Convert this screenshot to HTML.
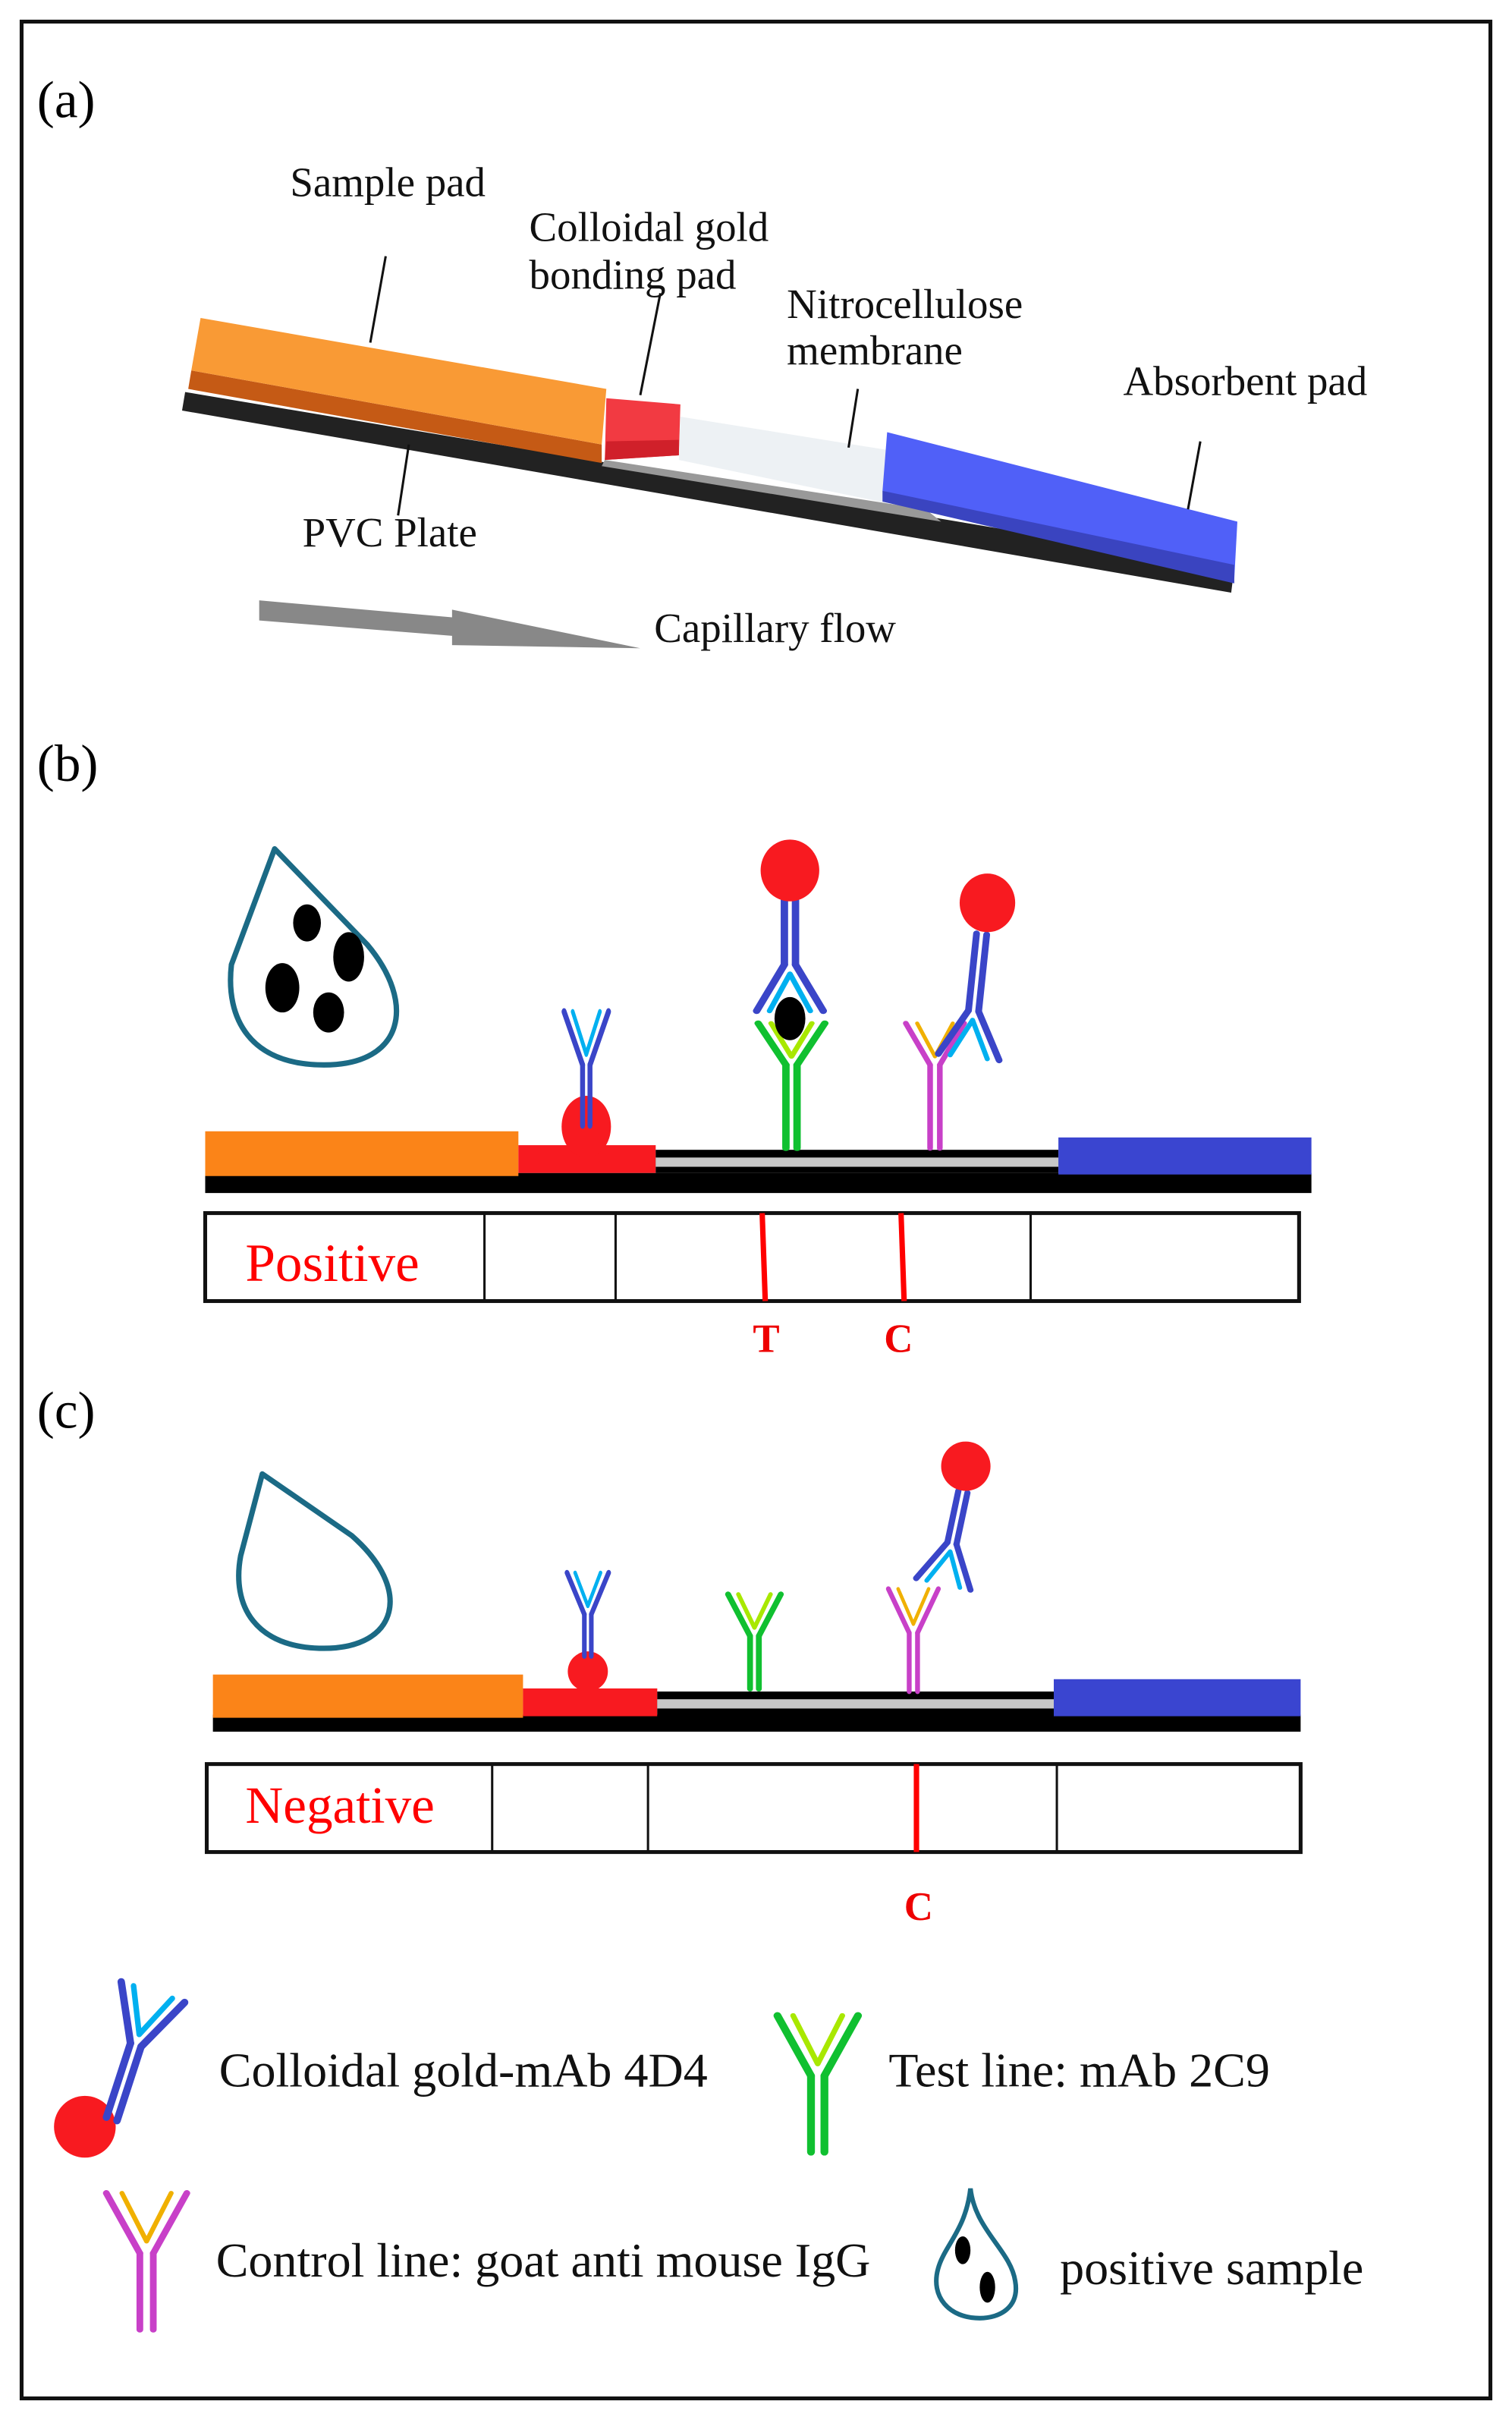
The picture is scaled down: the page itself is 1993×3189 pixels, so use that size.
<!DOCTYPE html>
<html><head><meta charset="utf-8"><style>
html,body{margin:0;padding:0;background:#fff}
svg{display:block}
text{font-family:"Liberation Serif",serif}
</style></head><body>
<svg width="1993" height="3189" viewBox="0 0 980 1568" preserveAspectRatio="none" xmlns="http://www.w3.org/2000/svg">
<rect x="0" y="0" width="980" height="1568" fill="#fff"/>
<rect x="14" y="14" width="952" height="1540" fill="none" stroke="#111" stroke-width="2.5"/>

<!-- (a) -->
<text x="24" y="76" font-size="34">(a)</text>
<polygon points="120,254 800,368 798,384 118,266" fill="#222"/>
<polygon points="124,240 390,288 390,300 122,252" fill="#c55a15"/>
<polygon points="130,206 393,252 390,288 124,240" fill="#f99a35"/>
<polygon points="393,258 441,262 440,295 392,298" fill="#f23a42"/>
<polygon points="393,286 440,285 440,295 392,298" fill="#d0202a"/>
<polygon points="392,298 600,330 610,338 390,302" fill="#999"/>
<polygon points="441,270 578,292 575,326 440,298" fill="#edf1f4"/>
<polygon points="575,280 802,338 800,375 572,318" fill="#5060f8"/>
<polygon points="572,318 800,366 800,378 572,325" fill="#3a44c0"/>
<g stroke="#111" stroke-width="1.5" fill="none">
<line x1="250" y1="166" x2="240" y2="222"/>
<line x1="428" y1="190" x2="415" y2="256"/>
<line x1="556" y1="252" x2="550" y2="290"/>
<line x1="778" y1="286" x2="770" y2="330"/>
<line x1="265" y1="288" x2="258" y2="334"/>
</g>
<g font-size="27" fill="#111">
<text x="188" y="127">Sample pad</text>
<text x="343" y="156">Colloidal gold</text>
<text x="343" y="187">bonding pad</text>
<text x="510" y="206">Nitrocellulose</text>
<text x="510" y="236">membrane</text>
<text x="728" y="256">Absorbent pad</text>
<text x="196" y="354">PVC Plate</text>
<text x="424" y="416">Capillary flow</text>
</g>
<polygon points="168,389 293,400 293,395 415,420 293,418 293,412 168,402" fill="#888"/>

<!-- (b) -->
<text x="24" y="506" font-size="34">(b)</text>
<path d="M178,550 L238,612 C270,650 262,690 210,690 C162,690 146,660 150,625 Z" fill="none" stroke="#1b6a85" stroke-width="3.5" stroke-linejoin="round"/>
<g fill="#000">
<ellipse cx="199" cy="598" rx="9" ry="12"/>
<ellipse cx="226" cy="620" rx="10" ry="16"/>
<ellipse cx="183" cy="640" rx="11" ry="16"/>
<ellipse cx="213" cy="656" rx="10" ry="13"/>
</g>
<rect x="133" y="760" width="717" height="13" fill="#000"/>
<rect x="133" y="733" width="203" height="29" fill="#fb8418"/>
<rect x="336" y="742" width="89" height="18" fill="#f81a20"/>
<rect x="425" y="745" width="261" height="15" fill="#000"/>
<rect x="425" y="750" width="261" height="6" fill="#c8c8c8"/>
<rect x="686" y="737" width="164" height="24" fill="#3a45d0"/>

<ellipse cx="380" cy="730" rx="16" ry="20" fill="#f81a20"/>
<g transform="translate(380,690) scale(0.8,1.15)" fill="none" stroke-linecap="round">
<path d="M-3,0 L-18,-30 M3,0 L18,-30" stroke="#3a45c8" stroke-width="4"/>
<path d="M0,-6 L-11,-30 M0,-6 L11,-30" stroke="#00b0f0" stroke-width="3"/>
<path d="M-3,0 V34 M3,0 V34" stroke="#3a45c8" stroke-width="4"/>
</g>
<g transform="translate(513,690) scale(1.2,0.9)" fill="none" stroke-linecap="round">
<path d="M-3,0 L-18,-30 M3,0 L18,-30" stroke="#10c030" stroke-width="4"/>
<path d="M0,-6 L-11,-30 M0,-6 L11,-30" stroke="#a8e800" stroke-width="3"/>
<path d="M-3,0 V60 M3,0 V60" stroke="#10c030" stroke-width="4"/>
</g>
<ellipse cx="512" cy="660" rx="10" ry="14" fill="#000"/>
<g transform="translate(512,625) rotate(180) scale(1.2,1)" fill="none" stroke-linecap="round">
<path d="M-3,0 L-18,-30 M3,0 L18,-30" stroke="#3a45c8" stroke-width="4"/>
<path d="M0,-6 L-11,-30 M0,-6 L11,-30" stroke="#00b0f0" stroke-width="3"/>
<path d="M-3,0 V45 M3,0 V45" stroke="#3a45c8" stroke-width="4"/>
</g>
<ellipse cx="512" cy="564" rx="19" ry="20" fill="#f81a20"/>
<g transform="translate(606,690) scale(1.05,0.9)" fill="none" stroke-linecap="round">
<path d="M-3,0 L-18,-30 M3,0 L18,-30" stroke="#c840c8" stroke-width="3.5"/>
<path d="M0,-6 L-11,-30 M0,-6 L11,-30" stroke="#f0b000" stroke-width="2.5"/>
<path d="M-3,0 V60 M3,0 V60" stroke="#c840c8" stroke-width="3.5"/>
</g>
<g transform="translate(631,655) rotate(186) scale(1.1,1)" fill="none" stroke-linecap="round">
<path d="M-3,0 L-18,-30 M3,0 L18,-30" stroke="#3a45c8" stroke-width="4"/>
<path d="M0,-6 L-11,-30 M0,-6 L11,-30" stroke="#00b0f0" stroke-width="3"/>
<path d="M-3,0 V50 M3,0 V50" stroke="#3a45c8" stroke-width="4"/>
</g>
<ellipse cx="640" cy="585" rx="18" ry="19" fill="#f81a20"/>

<rect x="133" y="786" width="709" height="57" fill="none" stroke="#111" stroke-width="2.5"/>
<g stroke="#111" stroke-width="1.5"><line x1="314" y1="786" x2="314" y2="843"/><line x1="399" y1="786" x2="399" y2="843"/><line x1="668" y1="786" x2="668" y2="843"/></g>
<line x1="494" y1="786" x2="496" y2="843" stroke="#f00" stroke-width="3.5"/>
<line x1="584" y1="786" x2="586" y2="843" stroke="#f00" stroke-width="3.5"/>
<text x="159" y="830" font-size="35" fill="#f00">Positive</text>
<text x="488" y="876" font-size="26" font-weight="bold" fill="#e00">T</text>
<text x="573" y="876" font-size="26" font-weight="bold" fill="#e00">C</text>

<!-- (c) -->
<text x="24" y="925" font-size="34">(c)</text>
<path d="M170,955 L228,995 C268,1030 258,1068 210,1068 C165,1068 150,1040 156,1008 Z" fill="none" stroke="#1b6a85" stroke-width="3.5" stroke-linejoin="round"/>
<rect x="138" y="1111" width="705" height="11" fill="#000"/>
<rect x="138" y="1085" width="201" height="28" fill="#fb8418"/>
<rect x="339" y="1094" width="87" height="18" fill="#f81a20"/>
<rect x="426" y="1096" width="257" height="16" fill="#000"/>
<rect x="426" y="1101" width="257" height="6" fill="#c8c8c8"/>
<rect x="683" y="1088" width="160" height="24" fill="#3a45d0"/>
<ellipse cx="381" cy="1083" rx="13" ry="13" fill="#f81a20"/>
<g transform="translate(381,1046) scale(0.75,0.9)" fill="none" stroke-linecap="round">
<path d="M-3,0 L-18,-30 M3,0 L18,-30" stroke="#3a45c8" stroke-width="4"/>
<path d="M0,-6 L-11,-30 M0,-6 L11,-30" stroke="#00b0f0" stroke-width="3"/>
<path d="M-3,0 V30 M3,0 V30" stroke="#3a45c8" stroke-width="4"/>
</g>
<g transform="translate(489,1060) scale(0.95,0.9)" fill="none" stroke-linecap="round">
<path d="M-3,0 L-18,-30 M3,0 L18,-30" stroke="#10c030" stroke-width="4"/>
<path d="M0,-6 L-11,-30 M0,-6 L11,-30" stroke="#a8e800" stroke-width="3"/>
<path d="M-3,0 V38 M3,0 V38" stroke="#10c030" stroke-width="4"/>
</g>
<g transform="translate(592,1058) scale(0.9,0.95)" fill="none" stroke-linecap="round">
<path d="M-3,0 L-18,-30 M3,0 L18,-30" stroke="#c840c8" stroke-width="3.5"/>
<path d="M0,-6 L-11,-30 M0,-6 L11,-30" stroke="#f0b000" stroke-width="2.5"/>
<path d="M-3,0 V40 M3,0 V40" stroke="#c840c8" stroke-width="3.5"/>
</g>
<g transform="translate(617,1000) rotate(192) scale(1,0.9)" fill="none" stroke-linecap="round">
<path d="M-3,0 L-18,-30 M3,0 L18,-30" stroke="#3a45c8" stroke-width="4"/>
<path d="M0,-6 L-11,-30 M0,-6 L11,-30" stroke="#00b0f0" stroke-width="3"/>
<path d="M-3,0 V38 M3,0 V38" stroke="#3a45c8" stroke-width="4"/>
</g>
<ellipse cx="626" cy="950" rx="16" ry="16" fill="#f81a20"/>
<rect x="134" y="1143" width="709" height="57" fill="none" stroke="#111" stroke-width="2.5"/>
<g stroke="#111" stroke-width="1.5"><line x1="319" y1="1143" x2="319" y2="1200"/><line x1="420" y1="1143" x2="420" y2="1200"/><line x1="685" y1="1143" x2="685" y2="1200"/></g>
<line x1="594" y1="1143" x2="594" y2="1200" stroke="#f00" stroke-width="3.5"/>
<text x="159" y="1181" font-size="34" fill="#f00">Negative</text>
<text x="586" y="1244" font-size="26" font-weight="bold" fill="#e00">C</text>

<!-- legend -->
<ellipse cx="55" cy="1378" rx="20" ry="20" fill="#f81a20"/>
<g transform="translate(88,1325) rotate(18) scale(1.2,1.2)" fill="none" stroke-linecap="round">
<path d="M-3,0 L-18,-30 M3,0 L18,-30" stroke="#3a45c8" stroke-width="4"/>
<path d="M0,-6 L-11,-30 M0,-6 L11,-30" stroke="#00b0f0" stroke-width="3"/>
<path d="M-3,0 V42 M3,0 V42" stroke="#3a45c8" stroke-width="4"/>
</g>
<g transform="translate(530,1345) scale(1.45,1.3)" fill="none" stroke-linecap="round">
<path d="M-3,0 L-18,-30 M3,0 L18,-30" stroke="#10c030" stroke-width="3.5"/>
<path d="M0,-6 L-11,-30 M0,-6 L11,-30" stroke="#a8e800" stroke-width="2.5"/>
<path d="M-3,0 V38 M3,0 V38" stroke="#10c030" stroke-width="3.5"/>
</g>
<g transform="translate(95,1460) scale(1.45,1.3)" fill="none" stroke-linecap="round">
<path d="M-3,0 L-18,-30 M3,0 L18,-30" stroke="#c840c8" stroke-width="3"/>
<path d="M0,-6 L-11,-30 M0,-6 L11,-30" stroke="#f0b000" stroke-width="2.2"/>
<path d="M-3,0 V38 M3,0 V38" stroke="#c840c8" stroke-width="3"/>
</g>
<path d="M629,1418 C632,1445 655,1458 658,1478 C661,1495 648,1502 635,1502 C615,1502 603,1488 608,1470 C612,1455 626,1445 629,1418 Z" fill="none" stroke="#1b6a85" stroke-width="3"/>
<ellipse cx="624" cy="1458" rx="5" ry="9" fill="#000"/>
<ellipse cx="640" cy="1482" rx="5" ry="10" fill="#000"/>
<g font-size="31.5" fill="#111">
<text x="142" y="1352">Colloidal gold-mAb 4D4</text>
<text x="576" y="1352">Test line: mAb 2C9</text>
<text x="140" y="1475">Control line: goat anti mouse IgG</text>
<text x="687" y="1480">positive sample</text>
</g>
</svg>
</body></html>
